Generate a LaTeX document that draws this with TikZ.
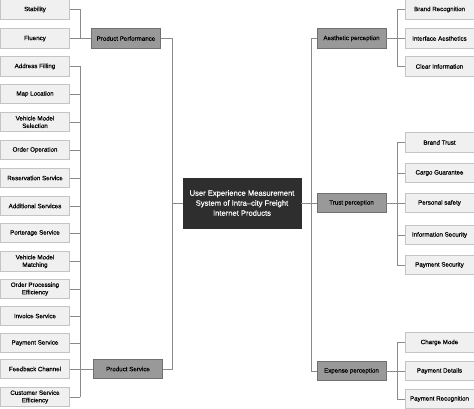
\documentclass[tikz,border=0pt]{standalone}
\usepackage{fontspec}
\setmainfont{Liberation Sans}[FakeBold=0.3]
\begin{document}
\begin{tikzpicture}[x=1pt,y=-1pt,
  leaf/.style={draw=leafline,fill=leaffill,line width=0.6pt,minimum width=69pt,minimum height=19.5pt,inner sep=1pt,align=center,font=\fontsize{6.2}{7.5}\selectfont,text=black},
  mid/.style={draw=midline,fill=midfill,line width=0.6pt,minimum width=69pt,minimum height=19.5pt,inner sep=1pt,align=center,font=\fontsize{6.2}{7.5}\selectfont,text=black},
  core/.style={draw=corefill,fill=corefill,minimum width=118pt,minimum height=50pt,inner sep=1pt,align=center,font=\fontsize{7.6}{10}\selectfont,text=white},
  conn/.style={draw=connline,line width=0.6pt}]
\definecolor{leaffill}{HTML}{F0F0F0}
\definecolor{leafline}{HTML}{C4C4C4}
\definecolor{midfill}{HTML}{999999}
\definecolor{midline}{HTML}{707070}
\definecolor{corefill}{HTML}{2E2E2E}
\definecolor{connline}{HTML}{8A8A8A}
\useasboundingbox[fill=white] (0,0) rectangle (474,409);
% bus coordinates
\coordinate (bl) at (80,0);
\coordinate (tl) at (172,0);
\coordinate (tr) at (311,0);
\coordinate (br) at (397,0);
% center
\node[core] (c) at (242,203) {User Experience Measurement\\System of Intra–city Freight\\Internet Products};
% left mid
\node[mid] (pp) at (126,38.5) {Product Performance};
\node[mid] (ps) at (128,369) {Product Service};
% left leaves
\node[leaf] (l1) at (35,9.5) {Stability};
\node[leaf] (l2) at (35,38.5) {Fluency};
\node[leaf] (l3) at (35,66.5) {Address Filling};
\node[leaf] (l4) at (35,94) {Map Location};
\node[leaf] (l5) at (35,122) {Vehicle Model\\Selection};
\node[leaf] (l6) at (35,150) {Order Operation};
\node[leaf] (l7) at (35,178) {Reservation Service};
\node[leaf] (l8) at (35,206) {Additional Services};
\node[leaf] (l9) at (35,233) {Porterage Service};
\node[leaf] (l10) at (35,261.5) {Vehicle Model\\Matching};
\node[leaf] (l11) at (35,289) {Order Processing\\Efficiency};
\node[leaf] (l12) at (35,316) {Invoice Service};
\node[leaf] (l13) at (35,343) {Payment Service};
\node[leaf] (l14) at (35,369) {Feedback Channel};
\node[leaf] (l15) at (35,397) {Customer Service\\Efficiency};
% right mid
\node[mid] (ap) at (351.5,38.5) {Aesthetic perception};
\node[mid] (tp) at (351.5,203) {Trust perception};
\node[mid] (ep) at (351.5,371) {Expense perception};
% right leaves
\node[leaf] (r1) at (439.5,9.5) {Brand Recognition};
\node[leaf] (r2) at (439.5,38.5) {Interface Aesthetics};
\node[leaf] (r3) at (439.5,66.5) {Clear Information};
\node[leaf] (r4) at (439.5,142.5) {Brand Trust};
\node[leaf] (r5) at (439.5,173) {Cargo Guarantee};
\node[leaf] (r6) at (439.5,203) {Personal safety};
\node[leaf] (r7) at (439.5,235) {Information Security};
\node[leaf] (r8) at (439.5,265) {Payment Security};
\node[leaf] (r9) at (439.5,342.5) {Charge Mode};
\node[leaf] (r10) at (439.5,371) {Payment Details};
\node[leaf] (r11) at (439.5,399) {Payment Recognition};
% left group 1
\draw[conn] (l1.east) -- (l1.east -| bl) -- (l2.east -| bl);
\draw[conn] (l2.east) -- (pp.west);
% left group 2
\foreach \n in {3,...,15} {\draw[conn] (l\n.east) -- (l\n.east -| bl);}
\draw[conn] (l3.east -| bl) -- (l15.east -| bl);
\draw[conn] (l14.east) -- (ps.west);
% left trunk
\draw[conn] (pp.east) -- (pp.east -| tl) -- (ps.east -| tl) -- (ps.east);
\draw[conn] (c.west -| tl) -- (c.west);
% right trunk
\draw[conn] (ap.west) -- (ap.west -| tr) -- (ep.west -| tr) -- (ep.west);
\draw[conn] (c.east) -- (tp.west);
% right groups
\foreach \n in {1,...,11} {\draw[conn] (r\n.west) -- (r\n.west -| br);}
\draw[conn] (r1.west -| br) -- (r3.west -| br);
\draw[conn] (r4.west -| br) -- (r8.west -| br);
\draw[conn] (r9.west -| br) -- (r11.west -| br);
\draw[conn] (ap.east) -- (r2.west);
\draw[conn] (tp.east) -- (r6.west);
\draw[conn] (ep.east) -- (r10.west);
\end{tikzpicture}
\end{document}
